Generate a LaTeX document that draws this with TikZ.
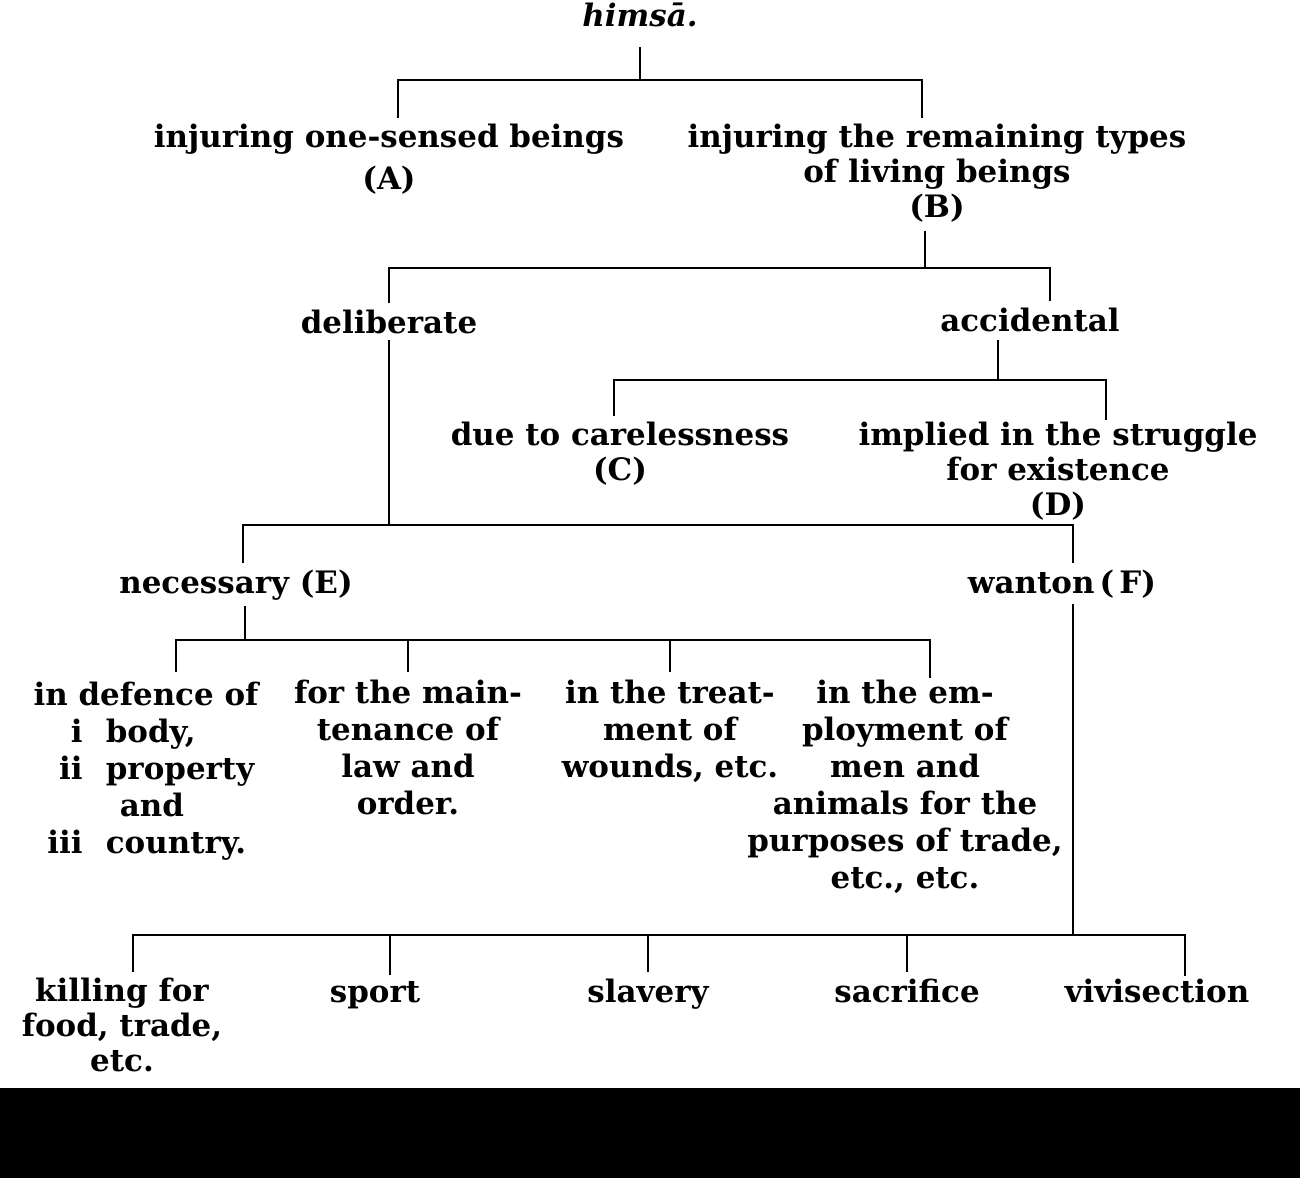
\documentclass[tikz,border=0pt]{standalone}
\usepackage{fontspec}
\setmainfont{DejaVu Serif}
\newcommand{\px}{0.02cm}

\begin{document}
\begin{tikzpicture}[
    x=0.02cm, y=-0.02cm,
    txt/.style={font=\bfseries\fontsize{17.6}{20}\selectfont, align=center, inner sep=1pt},
    col/.style={txt, anchor=north, font=\bfseries\fontsize{17.6}{21}\selectfont},
    leaf/.style={txt, anchor=base},
    branch/.style={line width=1.1pt, black},
]
\useasboundingbox (0,0) rectangle (1300,1178);

% ============ top: himsa ============
\node[txt, font=\bfseries\itshape\fontsize{17.6}{20}\selectfont] (himsa) at (640,15) {himsā.};
\node[txt, anchor=north] (A) at (389,122) {injuring one-sensed beings\\[4pt](A)};
\node[txt, anchor=north] (B) at (937,122) {injuring the remaining types\\of living beings\\(B)};
\coordinate (barAB) at (640,80);
\draw[branch, shorten <=18*\px] (himsa.south) -- (himsa.south |- barAB);
\draw[branch, shorten <=4*\px, shorten >=4*\px] ([xshift=9*\px]A.north) |- (barAB) -| ([xshift=-15*\px]B.north);

% ============ B: deliberate / accidental ============
\node[leaf] (delib) at (389,333) {deliberate};
\node[leaf] (accid) at (1030,331) {accidental};
\coordinate (barB) at (700,268);
\draw[branch, shorten <=6*\px] ([xshift=-12*\px]B.south) -- ([xshift=-12*\px]B.south |- barB);
\draw[branch, shorten <=4*\px, shorten >=4*\px] (delib.north) |- (barB) -| ([xshift=20*\px]accid.north);

% ============ accidental: C / D ============
\node[txt, anchor=north] (C) at (620,420) {due to carelessness\\(C)};
\node[txt, anchor=north] (D) at (1058,420) {implied in the struggle\\for existence\\(D)};
\coordinate (barCD) at (850,380);
\draw[branch, shorten <=6*\px] ([xshift=-32*\px]accid.south) -- ([xshift=-32*\px]accid.south |- barCD);
\draw[branch, shorten <=4*\px] ([xshift=-6*\px]C.north) |- (barCD) -| ([xshift=48*\px]D.north);

% ============ deliberate: necessary / wanton ============
\node[leaf] (E) at (236,593) {necessary (E)};
\node[leaf] (F) at (1062,593) {wanton\,(\,F)};
\coordinate (barEF) at (650,525);
\draw[branch, shorten <=4*\px] (delib.south) -- (delib.south |- barEF);
\draw[branch, shorten <=4*\px, shorten >=4*\px] ([xshift=7*\px]E.north) |- (barEF) -| ([xshift=11*\px]F.north);

% ============ necessary (E) ============
\node[col] (defence) at (146,678) {\begin{tabular}{@{\hspace{0.45em}}r@{\hspace{0.75em}}l@{}}
    \multicolumn{2}{@{}l@{}}{in defence of}\\
    i & body,\\
    ii & property\\
     & \hspace{0.45em}and\\
    iii & country.
  \end{tabular}};
\node[col] (maint) at (408,678) {for the main-\\tenance of\\law and\\order.};
\node[col] (treat) at (670,678) {in the treat-\\ment of\\wounds, etc.};
\node[col] (employ) at (905,678) {in the em-\\ployment of\\men and\\animals for the\\purposes of trade,\\etc., etc.};
\coordinate (barE) at (500,640);
\draw[branch, shorten <=4*\px] ([xshift=9*\px]E.south) -- ([xshift=9*\px]E.south |- barE);
\draw[branch, shorten <=6*\px] ([xshift=30*\px]defence.north) |- (barE) -| ([xshift=25*\px]employ.north);
\draw[branch, shorten <=6*\px] (maint.north) -- (maint.north |- barE);
\draw[branch, shorten <=6*\px] (treat.north) -- (treat.north |- barE);

% ============ wanton (F) ============
\node[txt, anchor=north] (killing) at (122,976) {killing for\\food, trade,\\etc.};
\node[leaf] (sport) at (375,1002) {sport};
\node[leaf] (slavery) at (648,1002) {slavery};
\node[leaf] (sacrif) at (907,1002) {sacrifice};
\node[leaf] (vivis) at (1157,1002) {vivisection};
\coordinate (barF) at (650,935);
\draw[branch, shorten <=4*\px] ([xshift=11*\px]F.south) -- ([xshift=11*\px]F.south |- barF);
\draw[branch, shorten <=4*\px] ([xshift=11*\px]killing.north) |- (barF) -| ([xshift=28*\px]vivis.north);
\draw[branch, shorten <=4*\px] ([xshift=15*\px]sport.north) -- ([xshift=15*\px]sport.north |- barF);
\draw[branch, shorten <=4*\px] (slavery.north) -- (slavery.north |- barF);
\draw[branch, shorten <=4*\px] (sacrif.north) -- (sacrif.north |- barF);

% band along the foot
\fill[black] (0,1088) rectangle (1300,1178);

\end{tikzpicture}
\end{document}
